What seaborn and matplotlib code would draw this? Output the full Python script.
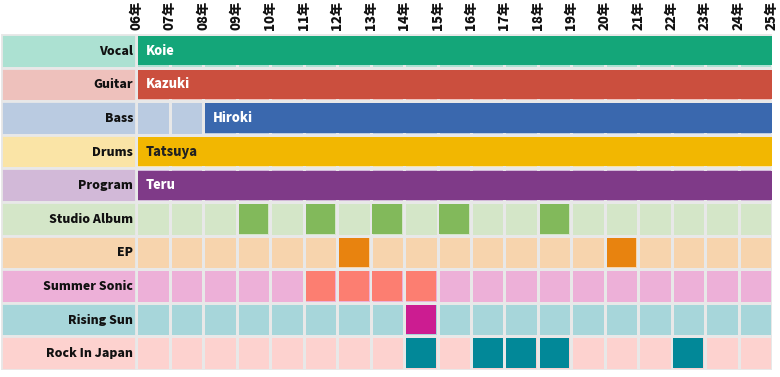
import numpy as np
import pandas as pd
import matplotlib
matplotlib.use('Agg')
import matplotlib.pyplot as plt
from matplotlib.colors import ListedColormap
import seaborn as sns

# ---- data ----
years = ['06年', '07年', '08年', '09年', '10年', '11年', '12年', '13年', '14年', '15年',
         '16年', '17年', '18年', '19年', '20年', '21年', '22年', '23年', '24年', '25年']
rows = ['Vocal', 'Guitar', 'Bass', 'Drums', 'Program',
        'Studio Album', 'EP', 'Summer Sonic', 'Rising Sun', 'Rock In Japan']

# members: (row, name, first column, last column exclusive)
member_rows = ['Vocal', 'Guitar', 'Bass', 'Drums', 'Program']
member_names = ['Koie', 'Kazuki', 'Hiroki', 'Tatsuya', 'Teru']
member_start = [0, 0, 2, 0, 0]
member_end = [19, 19, 19, 19, 19]

# events: column indexes (0 = 06年 .. 07年)
studio_album = [3, 5, 7, 9, 12]
ep = [6, 14]
summer_sonic = [5, 6, 7, 8]
rising_sun = [8]
rock_in_japan = [8, 10, 11, 12, 16]

light_colors = ['#ace1d2', '#eec1bc', '#bacbe1', '#fae4a6', '#d2b9d8',
                '#d4e6c8', '#f7d4ad', '#edb0d8', '#a7d6da', '#fdd2cf']
dark_colors = ['#14a679', '#cb4f3e', '#3a68ae', '#f2b701', '#7f3a88',
               '#82b95b', '#e8830f', '#fc7e71', '#cc1c91', '#028898']
name_colors = ['white', 'white', 'white', '#222222', 'white']

grid_color = '#e8e8e8'

sns.set_style('white')
plt.rcParams['font.family'] = ['Noto Sans CJK JP', 'DejaVu Sans']

ncol = len(years) - 1
nrow = len(rows)

# background matrix: each row gets its own light colour
bg = pd.DataFrame(np.repeat(np.arange(nrow)[:, None], ncol, axis=1),
                  index=rows, columns=years[:-1])

fig = plt.figure(figsize=(7.8, 3.77), dpi=100)
ax = fig.add_axes([1 / 780, 1 - 370 / 377, 771 / 780, 336 / 377])

sns.heatmap(bg, cmap=ListedColormap(light_colors), vmin=-0.5, vmax=nrow - 0.5,
            cbar=False, linewidths=2, linecolor=grid_color, ax=ax)

# label column
label_w = 4.05
ax.barh(np.arange(nrow) + 0.5, [label_w] * nrow, left=-label_w, height=1,
        color=light_colors, edgecolor=grid_color, linewidth=2)
for i, r in enumerate(rows):
    ax.text(-0.1, i + 0.5, r, ha='right', va='center', fontsize=8.8,
            fontweight='heavy', color='#111111')

# member bars
for r, name, s, e in zip(member_rows, member_names, member_start, member_end):
    i = rows.index(r)
    ax.barh(i + 0.5, e - s - 0.04, left=s + 0.04, height=0.87,
            color=dark_colors[i], linewidth=0)
    ax.text(s + 0.27, i + 0.5, name, ha='left', va='center', fontsize=9.2,
            fontweight='heavy', color=name_colors[i])

# event cells
events = {'Studio Album': studio_album, 'EP': ep, 'Summer Sonic': summer_sonic,
          'Rising Sun': rising_sun, 'Rock In Japan': rock_in_japan}
for r, cols in events.items():
    i = rows.index(r)
    ax.bar(np.array(cols) + 0.5, [0.88] * len(cols), bottom=i + 0.06, width=0.89,
           color=dark_colors[i], linewidth=0)

ax.set_xlim(-label_w, ncol)
ax.set_ylim(nrow, 0)
ax.xaxis.tick_top()
ax.set_xticks(np.arange(len(years)))
ax.set_xticklabels(years, rotation=90, fontsize=9.5, fontweight='heavy', color='#111111')
ax.tick_params(axis='x', length=0, pad=3)
ax.set_yticks([])
ax.set_xlabel('')
ax.set_ylabel('')
for sp in ax.spines.values():
    sp.set_visible(False)

fig.savefig('out.png', dpi=100)
